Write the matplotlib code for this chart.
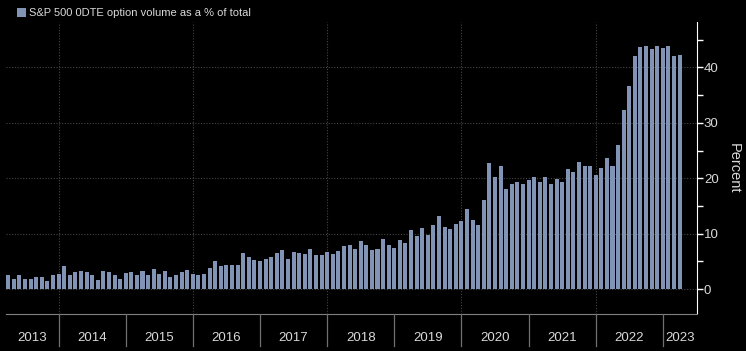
import numpy as np
import pandas as pd
import matplotlib
matplotlib.use('Agg')
import matplotlib.pyplot as plt

plt.rcParams['font.family'] = ['Liberation Sans', 'DejaVu Sans']

# Monthly share of S&P 500 option volume that is 0DTE (percent), Mar 2013 - Mar 2023
months = pd.period_range('2013-03', '2023-03', freq='M')
share = [
    2.5, 1.9, 2.5, 1.9, 1.9, 2.2, 2.2, 1.5, 2.5, 2.8,                  # 2013
    4.1, 2.5, 3.0, 3.2, 3.0, 2.5, 1.6, 3.3, 3.1, 2.5, 1.8, 2.9,        # 2014
    3.0, 2.6, 3.2, 2.6, 3.6, 2.8, 3.2, 2.2, 2.6, 3.0, 3.4, 2.8,        # 2015
    2.5, 2.8, 3.8, 5.0, 4.1, 4.4, 4.4, 4.4, 6.5, 5.7, 5.2, 5.0,        # 2016
    5.4, 5.7, 6.5, 7.0, 5.5, 6.7, 6.5, 6.3, 7.2, 6.1, 6.1, 6.7,        # 2017
    6.4, 6.8, 7.7, 7.9, 7.3, 8.7, 8.0, 7.0, 7.2, 9.0, 7.9, 7.4,        # 2018
    8.8, 8.3, 10.7, 9.5, 11.0, 9.8, 11.5, 13.2, 11.2, 10.9, 11.8, 12.3,  # 2019
    14.5, 12.4, 11.5, 16.0, 22.8, 20.3, 22.3, 18.1, 19.0, 19.3, 19.0, 19.7,  # 2020
    20.3, 19.3, 20.3, 18.9, 19.8, 19.3, 21.6, 21.1, 22.9, 22.3, 22.3, 20.5,  # 2021
    21.8, 23.6, 22.2, 26.0, 32.3, 36.6, 42.0, 43.6, 43.8, 43.3, 43.9, 43.5,  # 2022
    43.9, 42.1, 42.2,                                                  # 2023
]
years = list(range(2013, 2024))
series_name = 'S&P 500 0DTE option volume as a % of total'

bar_color = '#8194b5'
grid_color = '#454545'
text_color = '#d9d9d9'

# month-end position: months counted from Jan 2013, boundary of year Y at 12*(Y-2013)
pos = np.array([(m.year - 2013) * 12 + m.month for m in months])
x_min, x_max = 2.6, 126.1

fig = plt.figure(figsize=(7.46, 3.51), dpi=100, facecolor='black')
ax = fig.add_axes([0.008, 0.1054, 0.9263, 0.8319], facecolor='black')

bars = ax.bar(pos, share, width=0.72, color=bar_color, zorder=3, label=series_name)

ax.set_xlim(x_min, x_max)
ax.set_ylim(-4.5, 48.2)

# dotted grid
for yv in range(0, 50, 10):
    ax.axhline(yv, color=grid_color, linestyle=(0, (1, 1.5)), linewidth=0.8, zorder=1)
for yr in years[1::2]:
    ax.axvline((yr - 2013) * 12, color=grid_color, linestyle=(0, (1, 1.5)), linewidth=0.8, zorder=1)

ax.set_xticks([])
ax.yaxis.tick_right()
ax.yaxis.set_label_position('right')
ax.set_yticks(range(0, 50, 10))
ax.set_yticks(range(5, 50, 10), minor=True)
ax.tick_params(axis='y', which='both', colors='white', length=4, width=1, pad=1,
               labelsize=9.5, labelcolor=text_color)
ax.set_ylabel('Percent', color=text_color, fontsize=10.5, rotation=270, labelpad=16)

for side in ['left', 'top']:
    ax.spines[side].set_visible(False)
ax.spines['right'].set_color('white')
ax.spines['bottom'].set_color('#808080')

# year band below the chart
yax = fig.add_axes([0.008, 0.0, 0.9263, 0.1054], facecolor='black')
yax.set_xlim(x_min, x_max)
yax.set_ylim(0, 1)
yax.axis('off')
for yr in years[1:]:
    yax.plot([(yr - 2013) * 12] * 2, [0.135, 1], color='#707070', linewidth=0.9)
for yr in years:
    left = max((yr - 2013) * 12, x_min)
    right = min((yr - 2012) * 12, x_max)
    yax.text((left + right) / 2, 0.34, str(yr), ha='center', va='center',
             color=text_color, fontsize=9.5)

fig.legend(handles=[bars], labels=[series_name], loc='upper left',
           bbox_to_anchor=(0.012, 1.0), frameon=False, fontsize=8,
           handlelength=0.75, handleheight=0.75, handletextpad=0.3,
           borderpad=0.25, labelcolor=text_color)

fig.savefig('out.png', dpi=100, facecolor='black')
